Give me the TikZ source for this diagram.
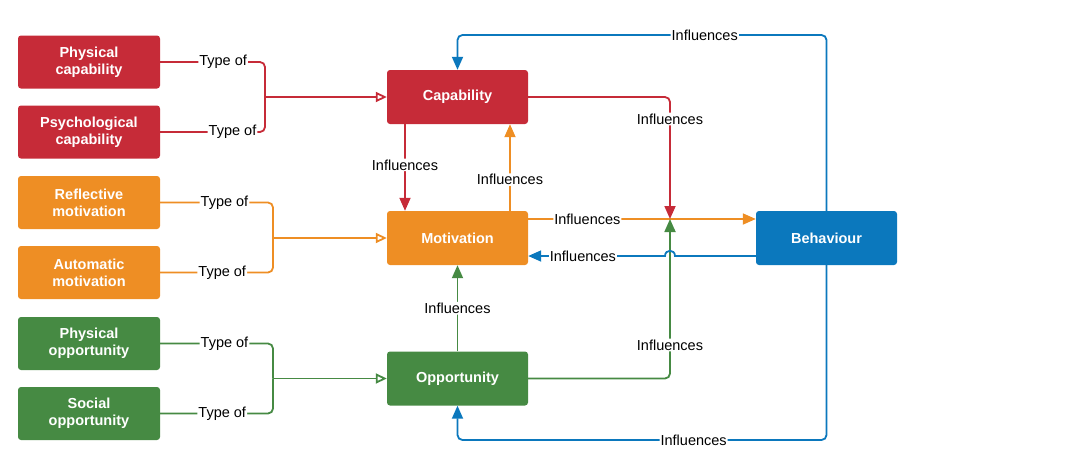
\documentclass[tikz,border=0pt]{standalone}
\usepackage{fontspec}
\setmainfont{Liberation Sans}
\usetikzlibrary{arrows.meta}
\definecolor{cred}{HTML}{C62B38}
\definecolor{corg}{HTML}{EE8E24}
\definecolor{cgrn}{HTML}{468A43}
\definecolor{cblu}{HTML}{0B78BD}
\begin{document}
\begin{tikzpicture}[x=1pt,y=-1pt,
  box/.style={draw=none,fill=#1,rounded corners=3pt,minimum width=141pt,minimum height=54pt,text=white,font=\bfseries\fontsize{14.5}{17}\selectfont,align=center,inner sep=0pt},
  sbox/.style={box=#1,minimum width=142pt,minimum height=53pt},
  lab/.style={fill=white,inner sep=1pt,font=\fontsize{14.5}{17}\selectfont,text=black},
  con/.style={draw=#1,line width=1.8pt,rounded corners=5pt},
  fa/.style={-{Triangle[length=13pt,width=11pt]}},
  oa/.style={-{Triangle[open,length=11pt,width=10pt]}}]
\useasboundingbox (0,0) rectangle (1080,475);
% left boxes
\node[sbox=cred] (pc) at (89,62) {Physical\\capability};
\node[sbox=cred] (psc) at (89,132) {Psychological\\capability};
\node[sbox=corg] (rm) at (89,202.5) {Reflective\\motivation};
\node[sbox=corg] (am) at (89,272.5) {Automatic\\motivation};
\node[sbox=cgrn] (po) at (89,343.5) {Physical\\opportunity};
\node[sbox=cgrn] (so) at (89,413.5) {Social\\opportunity};
% main boxes
\node[box=cred] (cap) at (457.5,97) {Capability};
\node[box=corg] (mot) at (457.5,238) {Motivation};
\node[box=cgrn] (opp) at (457.5,378.5) {Opportunity};
\node[box=cblu] (beh) at (826.5,238) {Behaviour};
\coordinate (jc) at (670,219);
% type-of connectors
\draw[con=cred] (pc.east) -- node[lab,pos=0.6]{Type of} (265,62) -- (265,97);
\draw[con=cred] (psc.east) -- node[lab,pos=0.69]{Type of} (265,132) -- (265,97);
\draw[con=cred,oa] (265,97) -- (cap.west);
\draw[con=corg] (rm.east) -- node[lab,pos=0.57]{Type of} (273,202.5) -- (273,238);
\draw[con=corg] (am.east) -- node[lab,pos=0.55]{Type of} (273,272.5) -- (273,238);
\draw[con=corg,oa] (273,238) -- (mot.west);
\draw[con=cgrn] (po.east) -- node[lab,pos=0.57]{Type of} (273,343.5) -- (273,378.5);
\draw[con=cgrn] (so.east) -- node[lab,pos=0.55]{Type of} (273,413.5) -- (273,378.5);
\draw[con=cgrn,oa] (273,378.5) -- (opp.west);
% influences
\draw[con=cred,fa] (cap.south -| 405,0) -- node[lab,pos=0.47]{Influences} (mot.north -| 405,0);
\draw[con=corg,fa] (mot.north -| 510,0) -- node[lab,pos=0.36]{Influences} (cap.south -| 510,0);
\draw[con=cgrn,fa] (opp.north) -- node[lab]{Influences} (mot.south);
\draw[con=corg,fa] (mot.east |- jc) -- node[lab,pos=0.26]{Influences} (beh.west |- jc);
\draw[con=cred,fa] (cap.east) -- (670,97) -- node[lab,pos=0.18]{Influences} (jc);
\draw[con=cgrn,fa] (opp.east) -- (670,378.5) -- node[lab,pos=0.21]{Influences} (jc);
\draw[con=cblu,fa,rounded corners=0pt] (beh.west |- 0,256) -- (675,256) .. controls (675,249) and (665,249) .. (665,256) -- node[lab,pos=0.6]{Influences} (mot.east |- 0,256);
\draw[con=cblu,fa] (beh.north) -- (beh.north |- 0,35) -- node[lab,pos=0.33]{Influences} (457.5,35) -- (cap.north);
\draw[con=cblu,fa] (beh.south) -- (beh.south |- 0,440) -- node[lab,pos=0.36]{Influences} (457.5,440) -- (opp.south);
\end{tikzpicture}
\end{document}
